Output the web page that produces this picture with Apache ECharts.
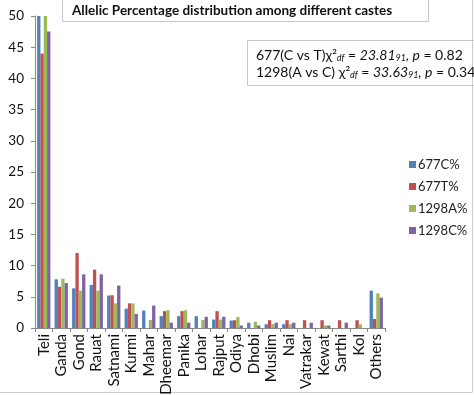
<!DOCTYPE html>
<html>
<head>
<meta charset="utf-8">
<script src="https://cdn.jsdelivr.net/npm/echarts@6/dist/echarts.min.js"></script>
<style>html,body{margin:0;padding:0;background:#fff}#c{width:474px;height:395px}</style>
</head>
<body>
<div id="c"></div>
<script>
const categories = ["Teli","Ganda","Gond","Rauat","Satnami","Kurmi","Mahar","Dheemar","Panika","Lohar","Rajput","Odiya","Dhobi","Muslim","Nai","Vatrakar","Kewat","Sarthi","Kol","Others"];
const s677C  = [50, 7.8, 6.35, 6.9, 5.2, 3.1, 2.8, 1.9, 1.9, 1.9, 1.35, 1.2, 0.85, 0.6, 0.6, 0, 0, 0, 0, 6.0];
const s677T  = [44, 6.6, 12.0, 9.35, 5.25, 3.95, 0, 2.7, 2.7, 0, 2.7, 1.25, 0, 1.25, 1.25, 1.25, 1.25, 1.25, 1.25, 1.45];
const s1298A = [50, 7.9, 6.0, 6.0, 3.95, 3.95, 1.3, 2.85, 2.85, 1.3, 1.35, 1.75, 1.0, 0.6, 0.6, 0, 0.4, 0, 0.6, 5.55];
const s1298C = [47.5, 7.2, 8.6, 8.6, 6.8, 2.25, 3.6, 0.85, 0.85, 1.8, 1.8, 0.4, 0.4, 0.85, 0.85, 0.85, 0.4, 0.85, 0, 4.85];
const seriesNames = ["677C%","677T%","1298A%","1298C%"];
const yTicks = [0,5,10,15,20,25,30,35,40,45,50];
const colors = ["#4F81BD","#C0504D","#9BBB59","#8064A2"];

const font = "Lato, 'Open Sans', sans-serif";
const chart = echarts.init(document.getElementById('c'), null, {renderer:'canvas'});
const mk = (name, data, i) => ({
  name, type:'bar', data, barGap:'0%', barCategoryGap:'24%',
  itemStyle:{color:colors[i]}
});
chart.setOption({
  animation:false,
  textStyle:{fontFamily:font},
  title:[{
    text:'Allelic Percentage distribution among different castes',
    left:62, top:-1,
    padding:[5,37,4,10],
    borderColor:'#c8c8c8', borderWidth:1,
    textStyle:{fontFamily:font, fontSize:13.5, fontWeight:'bold', color:'#111'}
  },{
    text:'{n|677(C vs T)χ²}{s|df}{n| = }{i|23.81}{s|91}{i|, p}{n| = 0.82}\n{n|1298(A vs C) χ²}{s|df}{n| = }{i|33.63}{s|91}{i|, p}{n| = 0.34}',
    left:247, top:40,
    padding:[7,30,5,9],
    borderColor:'#c8c8c8', borderWidth:1,
    textStyle:{fontFamily:font, fontSize:14, fontWeight:'normal', color:'#111', lineHeight:17,
      rich:{
        n:{fontFamily:font, fontSize:14, fontWeight:'normal', color:'#111', lineHeight:17},
        i:{fontFamily:font, fontSize:14, fontWeight:'normal', fontStyle:'italic', color:'#111', lineHeight:17},
        s:{fontFamily:font, fontSize:9, fontWeight:'normal', fontStyle:'italic', color:'#111', lineHeight:17, padding:[5,0,0,0]}
      }}
  }],
  legend:{
    orient:'vertical', left:404, top:153, itemGap:9,
    itemWidth:7, itemHeight:7, icon:'rect',
    data:seriesNames,
    textStyle:{fontFamily:font, fontSize:13, color:'#222', padding:[0,0,0,-3]}
  },
  grid:{left:35, right:89, top:16, bottom:67, outerBoundsMode:'none', containLabel:false},
  xAxis:{
    type:'category', data:categories,
    axisLine:{lineStyle:{color:'#888'}},
    axisTick:{show:true, length:4, lineStyle:{color:'#888'}},
    axisLabel:{rotate:90, interval:0, fontFamily:font, fontSize:15, color:'#111', margin:6}
  },
  yAxis:{
    type:'value', min:yTicks[0], max:yTicks[yTicks.length-1], interval:5,
    splitLine:{show:false},
    axisLine:{show:true, lineStyle:{color:'#888'}},
    axisTick:{show:true, length:4, lineStyle:{color:'#888'}},
    axisLabel:{fontFamily:font, fontSize:13.5, color:'#111', margin:11}
  },
  graphic:[{
    type:'rect', shape:{x:-1, y:-1, width:473.5, height:393.5},
    style:{fill:'none', stroke:'#cfcfcf', lineWidth:1}, silent:true
  }],
  series:[mk(seriesNames[0], s677C,0), mk(seriesNames[1], s677T,1), mk(seriesNames[2], s1298A,2), mk(seriesNames[3], s1298C,3)]
});
</script>
</body>
</html>
